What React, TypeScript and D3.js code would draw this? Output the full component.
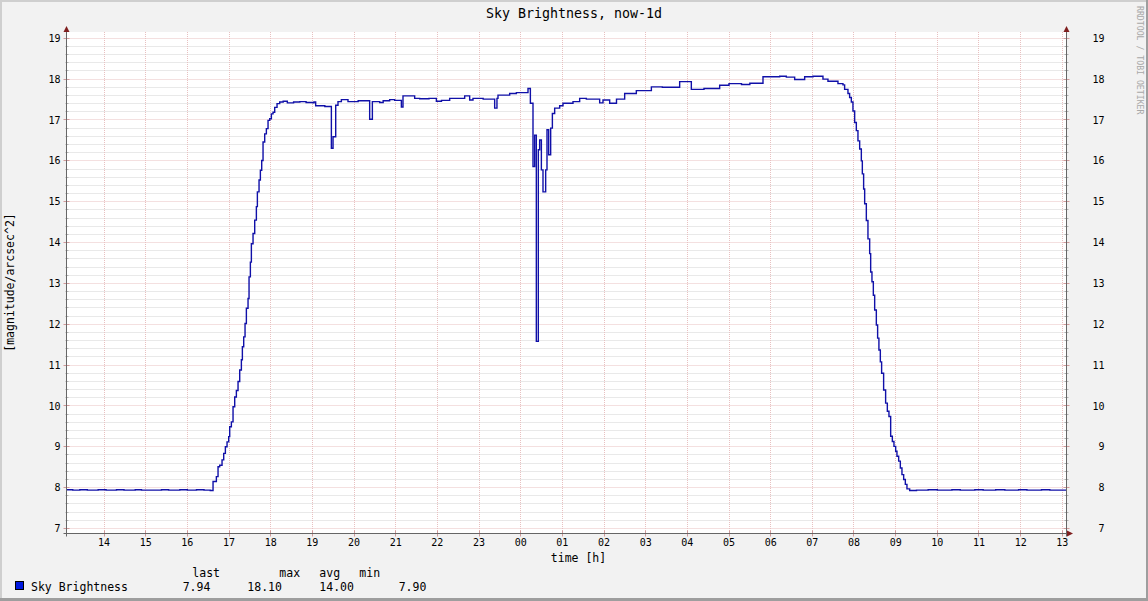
import * as d3 from 'd3'

// hours since midnight of the first day (24+ = next day)
const xTickHours = [14, 15, 16, 17, 18, 19, 20, 21, 22, 23, 24, 25, 26, 27, 28, 29, 30, 31, 32, 33, 34, 35, 36, 37]
const xTickLabels = ['14', '15', '16', '17', '18', '19', '20', '21', '22', '23', '00', '01', '02', '03', '04', '05', '06', '07', '08', '09', '10', '11', '12', '13']
const yTickValues = [7, 8, 9, 10, 11, 12, 13, 14, 15, 16, 17, 18, 19]

// [hour, magnitude/arcsec^2]
const afternoon: [number, number][] = [
  [13.088, 7.95], [13.25, 7.94], [13.42, 7.95], [13.6, 7.94], [13.86, 7.95], [14.05, 7.94],
  [14.3, 7.95], [14.48, 7.94], [14.75, 7.95], [14.9, 7.94], [15.2, 7.94], [15.38, 7.95],
  [15.55, 7.94], [15.82, 7.95], [16.0, 7.94], [16.22, 7.95], [16.4, 7.94], [16.55, 7.93],
]
const dusk: [number, number][] = [
  [16.617, 8.15], [16.697, 8.27], [16.737, 8.51], [16.777, 8.55], [16.833, 8.68], [16.873, 8.84],
  [16.913, 9.0], [16.953, 9.12], [16.993, 9.25], [17.017, 9.49], [17.057, 9.61], [17.097, 9.98],
  [17.137, 10.22], [17.177, 10.38], [17.217, 10.6], [17.257, 10.88], [17.297, 11.13], [17.321, 11.45],
  [17.353, 11.69], [17.385, 12.02], [17.417, 12.39], [17.457, 12.63], [17.481, 13.16], [17.513, 13.52],
  [17.537, 13.97], [17.577, 14.22], [17.617, 14.55], [17.657, 14.88], [17.681, 15.24], [17.721, 15.53],
  [17.753, 15.77], [17.785, 16.01], [17.817, 16.46], [17.857, 16.66], [17.897, 16.79], [17.937, 16.99],
  [17.977, 17.03], [18.017, 17.15], [18.057, 17.19], [18.097, 17.31], [18.153, 17.4],
]
const night: [number, number][] = [
  [18.217, 17.44], [18.3, 17.46], [18.4, 17.42], [18.55, 17.44], [18.7, 17.45], [18.85, 17.43], [19.016, 17.42],
  [19.04, 17.44], [19.08, 17.35], [19.3, 17.33], [19.457, 16.31], [19.497, 16.59], [19.561, 17.36],
  [19.616, 17.45], [19.697, 17.5], [19.856, 17.45], [20.1, 17.47], [20.376, 17.02], [20.441, 17.45],
  [20.616, 17.43], [20.7, 17.47], [20.856, 17.5], [20.976, 17.48], [21.137, 17.32], [21.176, 17.59],
  [21.456, 17.53], [21.576, 17.52], [21.8, 17.53], [21.977, 17.46], [22.1, 17.48], [22.296, 17.53],
  [22.656, 17.59], [22.776, 17.49], [22.856, 17.53], [23.1, 17.51], [23.376, 17.29], [23.431, 17.53],
  [23.456, 17.61], [23.736, 17.65], [23.897, 17.67], [24.176, 17.77], [24.233, 17.41], [24.296, 15.86],
  [24.336, 16.63], [24.376, 11.58], [24.424, 16.27], [24.456, 16.51], [24.497, 15.78], [24.536, 15.24],
  [24.6, 15.78], [24.632, 16.76], [24.672, 16.15], [24.72, 16.8], [24.761, 17.16], [24.816, 17.29],
  [24.936, 17.35], [25.016, 17.41], [25.256, 17.45], [25.416, 17.53], [25.576, 17.51], [25.896, 17.42],
  [25.976, 17.49], [26.136, 17.41], [26.3, 17.51], [26.496, 17.65], [26.776, 17.72], [27.137, 17.81],
  [27.4, 17.8], [27.816, 17.94], [28.096, 17.75], [28.4, 17.77], [28.776, 17.85], [29.0, 17.89],
  [29.3, 17.87], [29.5, 17.9], [29.816, 18.06], [30.216, 18.07], [30.376, 18.05], [30.576, 17.99],
  [30.816, 18.06], [31.015, 18.07], [31.255, 18.0], [31.375, 17.95], [31.615, 17.89], [31.735, 17.86],
  [31.775, 17.75], [31.855, 17.65], [31.895, 17.55],
]
const dawn: [number, number][] = [
  [31.936, 17.44], [31.975, 17.22], [32.016, 16.94], [32.056, 16.74], [32.095, 16.49], [32.136, 16.29],
  [32.176, 16.0], [32.2, 15.68], [32.231, 15.31], [32.256, 14.95], [32.296, 14.54], [32.335, 14.09],
  [32.376, 13.73], [32.4, 13.28], [32.431, 13.04], [32.464, 12.71], [32.496, 12.35], [32.536, 11.98],
  [32.567, 11.66], [32.598, 11.37], [32.632, 11.08], [32.663, 10.8], [32.711, 10.39], [32.759, 10.07],
  [32.8, 9.87], [32.839, 9.74], [32.88, 9.26], [32.92, 9.13], [32.959, 9.01], [33.0, 8.89],
  [33.031, 8.77], [33.072, 8.65], [33.112, 8.48], [33.151, 8.32], [33.192, 8.2], [33.232, 8.08],
  [33.271, 7.97],
]
const morning: [number, number][] = [
  [33.336, 7.93], [33.5, 7.94], [33.78, 7.95], [34.0, 7.94], [34.35, 7.95], [34.55, 7.94],
  [34.9, 7.95], [35.1, 7.94], [35.4, 7.95], [35.62, 7.94], [35.95, 7.95], [36.15, 7.94],
  [36.5, 7.95], [36.7, 7.94], [37.088, 7.94],
]

const legendName = 'Sky Brightness'
const statNames = ['last', 'max', 'avg', 'min']
const statValues = ['7.94', '18.10', '14.00', '7.90']

const W = 1148
const H = 601
const FONT = 'DejaVu Sans Mono'

export default function App() {
  const plot = { left: 66, right: 1066, top: 32, bottom: 533 }
  const x = d3.scaleLinear().domain([13.088, 37.088]).range([plot.left, plot.right])
  const y = d3.scaleLinear().domain([7, 19]).range([528.5, 38.3])
  const crisp = (v: number) => Math.floor(v) + 0.5

  const series = [...afternoon, ...dusk, ...night, ...dawn, ...morning]
  const line = d3
    .line<[number, number]>()
    .x(d => x(d[0]))
    .y(d => y(d[1]))
    .curve(d3.curveStepAfter)

  const minorY = d3.range(7, 19.01, 0.2).filter(v => Math.abs(v - Math.round(v)) > 0.01)
  const ax = crisp(plot.left)
  const rx = crisp(plot.right)
  const by = crisp(plot.bottom)

  const headX = [192.3, 279.3, 319.3, 359.3]
  const valX = [182.7, 247.3, 319.3, 398.7]

  return (
    <svg width={W} height={H} style={{ position: 'absolute', left: 0, top: 0 }} fontFamily={FONT}>
      {/* background + 3d frame */}
      <rect x={0} y={0} width={W} height={H} fill="#f2f2f2" />
      <rect x={0} y={0} width={W} height={2} fill="#cfcfcf" />
      <rect x={0} y={0} width={2} height={H} fill="#cfcfcf" />
      <rect x={0} y={H - 3} width={W} height={3} fill="#9e9e9e" />
      <rect x={W - 2} y={0} width={2} height={H} fill="#9e9e9e" />

      <rect x={plot.left} y={plot.top} width={plot.right - plot.left} height={plot.bottom - plot.top} fill="#fff" />

      {/* minor horizontal grid */}
      {minorY.map(v => (
        <g key={'m' + v}>
          <line x1={ax} x2={rx} y1={crisp(y(v))} y2={crisp(y(v))} stroke="#d2d2d2" strokeDasharray="1,1" />
          <line x1={ax - 1} x2={ax + 2} y1={crisp(y(v))} y2={crisp(y(v))} stroke="#b0b0b0" />
          <line x1={rx - 2} x2={rx + 2} y1={crisp(y(v))} y2={crisp(y(v))} stroke="#b0b0b0" />
        </g>
      ))}
      {/* major horizontal grid */}
      {yTickValues.map(v => (
        <g key={'M' + v}>
          <line x1={ax} x2={rx} y1={crisp(y(v))} y2={crisp(y(v))} stroke="#e8c0c0" strokeDasharray="1,1" />
          <line x1={ax - 3} x2={ax + 3} y1={crisp(y(v))} y2={crisp(y(v))} stroke="#d09a9a" />
          <line x1={rx - 3} x2={rx + 3} y1={crisp(y(v))} y2={crisp(y(v))} stroke="#d09a9a" />
          <text x={60.5} y={y(v) + 3.6} fontSize={10} textAnchor="end" fill="#000">{v}</text>
          <text x={1104.5} y={y(v) + 3.6} fontSize={10} textAnchor="end" fill="#000">{v}</text>
        </g>
      ))}
      {/* vertical grid */}
      {xTickHours.map((h, i) => (
        <g key={'x' + h}>
          <line x1={crisp(x(h))} x2={crisp(x(h))} y1={plot.top} y2={by} stroke="#e8c0c0" strokeDasharray="1,1" />
          <line x1={crisp(x(h))} x2={crisp(x(h))} y1={by - 3} y2={by + 3} stroke="#d09a9a" />
          <text x={x(h)} y={546} fontSize={10} textAnchor="middle" fill="#000">{xTickLabels[i]}</text>
        </g>
      ))}

      {/* data */}
      <path d={line(series) ?? ''} fill="none" stroke="#1010a8" strokeWidth={1.4} />

      {/* axes */}
      <line x1={ax} x2={ax} y1={plot.top - 2} y2={by + 3} stroke="#666" />
      <line x1={rx} x2={rx} y1={plot.top - 2} y2={by + 3} stroke="#666" />
      <line x1={ax - 3} x2={rx + 2} y1={by} y2={by} stroke="#666" />
      <polygon points={`${ax},26 ${ax - 3},32 ${ax + 3},32`} fill="#7f1f1f" />
      <polygon points={`${rx},26 ${rx - 3},32 ${rx + 3},32`} fill="#7f1f1f" />
      <polygon points={`1073,${by} 1067,${by - 3} 1067,${by + 3}`} fill="#7f1f1f" />

      {/* titles */}
      <text x={574} y={18} fontSize={13.3} textAnchor="middle" fill="#000">Sky Brightness, now-1d</text>
      <text transform="translate(13.5,282.5) rotate(-90)" fontSize={11.5} textAnchor="middle" fill="#000">
        [magnitude/arcsec^2]
      </text>
      <text x={578.5} y={562} fontSize={11.5} textAnchor="middle" fill="#000">time [h]</text>
      <text transform="translate(1136.5,6) rotate(90)" fontSize={8.2} fill="#a8a8a8">RRDTOOL / TOBI OETIKER</text>

      {/* legend */}
      {statNames.map((s, i) => (
        <text key={s} x={headX[i]} y={577.3} fontSize={11.5} fill="#000">{s}</text>
      ))}
      <rect x={15.5} y={581.5} width={8} height={8} fill="#0018e0" stroke="#000" strokeWidth={1} />
      <text x={31} y={590.7} fontSize={11.5} fill="#000">{legendName}</text>
      {statValues.map((s, i) => (
        <text key={'v' + i} x={valX[i]} y={590.7} fontSize={11.5} fill="#000">{s}</text>
      ))}
    </svg>
  )
}
